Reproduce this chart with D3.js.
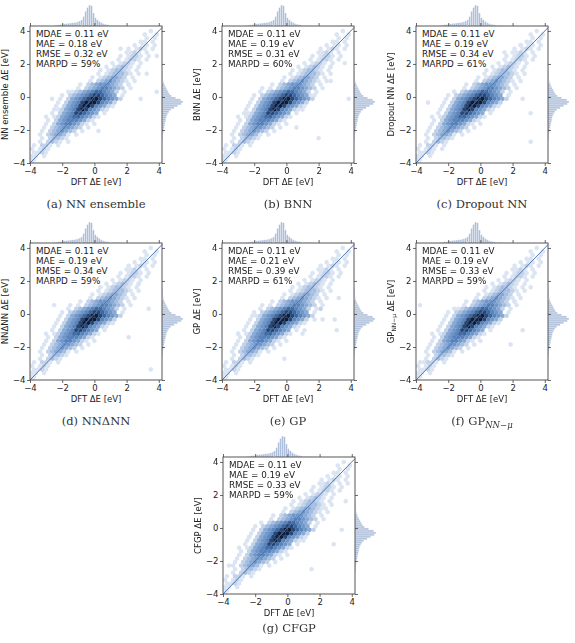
<!DOCTYPE html>
<html>
<head>
<meta charset="utf-8">
<script src="https://cdn.jsdelivr.net/npm/d3@7"></script>
<style>
  body { margin: 0; background: #fff; }
  svg { display: block; }
</style>
</head>
<body>
<div id="chart"></div>
<script>
// datos del grafico
const captionMain = ["(a) NN ensemble", "(b) BNN", "(c) Dropout NN", "(d) NNΔNN", "(e) GP", "(f) GP", "(g) CFGP"]
const captionSub = ["", "", "", "", "", "NN−μ", ""]
const yLabelMain = ["NN ensemble", "BNN", "Dropout NN", "NNΔNN", "GP", "GP", "CFGP"]
const yLabelSub = ["", "", "", "", "", "NN−μ", ""]
const mdae = [0.11, 0.11, 0.11, 0.11, 0.11, 0.11, 0.11]
const mae = [0.18, 0.19, 0.19, 0.19, 0.21, 0.19, 0.19]
const rmse = [0.32, 0.31, 0.34, 0.34, 0.39, 0.33, 0.33]
const marpd = [59, 60, 61, 59, 61, 59, 59]
const ticks = [-4, -2, 0, 2, 4]

// histogramas marginales (altura relativa, bins de 0.12 desde -2.64)
const histStart = -2.64
const histBin = 0.12
const histDFT = [2, 3, 4, 6, 7, 9, 10, 12, 13, 14, 15, 16, 18, 20, 24, 30, 45, 70, 88, 100, 96, 62, 40, 30, 22, 16, 12, 9, 7, 5, 4, 3, 3, 2, 2, 1, 1]
const histPred = [2, 3, 4, 5, 7, 8, 10, 12, 14, 16, 18, 20, 23, 27, 33, 42, 58, 75, 92, 100, 90, 65, 45, 36, 30, 25, 20, 15, 11, 8, 6, 4, 3, 2, 2, 1, 1]

// celdas hexagonales de la banda: "columnaInicial:niveles" por fila, de y=4 a y=-4
const bandRows = [
  "30:1",
  "28:1..1",
  "29:1.1",
  "27:11.1",
  "26:1.11.1",
  "24:1.121.1",
  "24:1121.1",
  "22:1.1221.1",
  "22:1.1221.1",
  "20:1.1221.1",
  "19:1.12321.1",
  "17:1.123321.1",
  "17:1.1233321.1",
  "15:1.1234432.1",
  "15:1.23454321.1",
  "12:1.234555432.1",
  "12:1.2345665432.1",
  "9:1.23456776542.1",
  "8:1.234567887654.1",
  "7:1.24567899876542",
  "7:1.2456899986542",
  "6:1.2456899865421",
  "6:1.245689865421",
  "5:1.2456887654.1",
  "4:1.124567765421",
  "4:1.2456665421",
  "4:1.245665421.1",
  "3:1.23455432.1",
  "3:1.2345432.1",
  "2:1.234431.1",
  "3:1.23321",
  "2:1.2321",
  "1:1.221.1",
  "0:1.121",
  "1:1121",
  "0:11.1",
  "0:11",
  "0:1"
]

// puntos sueltos por panel: [DFT, prediccion, nivel]
const outliersA = [[3.2, 1.4, 1], [2.2, 0.8, 1], [0.75, -0.8, 2], [-2.6, -0.2, 1], [-1.7, -2.75, 1], [2.9, -0.2, 1], [0.3, -2.1, 1], [-2.3, -0.8, 1], [3.8, 2.4, 1], [3.9, 0.4, 1], [1.5, 3.0, 1], [-1.5, 0.4, 1], [1.2, -0.5, 1]]
const outliersB = [[-2.9, 2.7, 1], [-3.9, -3.6, 1], [3.8, -0.2, 1], [2.7, 1.0, 1], [0.55, -1.8, 1], [-2.3, -1.0, 1], [2.1, -2.6, 1], [2.8, 1.9, 1], [3.6, 2.0, 1], [-1.4, 0.5, 1], [1.1, -0.7, 1], [1.6, 0.2, 1]]
const outliersC = [[3.0, -0.9, 1], [2.7, -0.2, 1], [3.0, -2.8, 1], [-3.2, -0.4, 1], [-2.4, -3.2, 1], [1.45, 2.6, 1], [2.5, 3.2, 1], [0.75, -0.8, 2], [1.8, 0.1, 1], [-1.6, 0.3, 1]]
const outliersD = [[3.45, -3.4, 1], [-3.05, -1.7, 1], [2.65, 1.9, 1], [2.05, -1.4, 1], [0.0, -1.1, 1], [3.25, 0.25, 1], [-2.4, 0.45, 1], [1.2, -0.6, 1], [-1.4, 0.6, 1]]
const outliersE = [[3.0, -0.3, 1], [1.8, -0.4, 1], [2.2, -0.4, 1], [3.3, 0.9, 1], [-2.9, -1.3, 1], [3.2, -0.9, 1], [2.0, 0.4, 2], [-0.05, -2.7, 1], [-1.5, 0.6, 1], [1.2, -0.9, 1], [-3.7, -3.9, 1], [-1.8, -0.2, 1], [0.9, -1.3, 1]]
const outliersF = [[-3.8, 0.5, 1], [1.8, -1.8, 1], [2.5, -0.9, 1], [2.8, 2.2, 1], [3.0, 1.7, 1], [2.2, 0.7, 1], [-3.4, -2.9, 1], [-0.05, -1.2, 1], [-1.5, 0.4, 1]]
const outliersG = [[3.65, 1.6, 1], [3.4, -0.2, 1], [2.9, -1.0, 1], [-3.6, -2.2, 1], [2.0, 1.1, 1], [-2.3, -0.6, 1], [1.4, -2.6, 1], [3.65, 2.8, 1], [1.1, -0.8, 1]]
const outliers = [outliersA, outliersB, outliersC, outliersD, outliersE, outliersF, outliersG]

// constantes de tamano
const width = 575
const height = 643
const boxW = 132
const boxH = 137
const panels = [
  {left: 30, top: 26, capY: 208},
  {left: 222, top: 26, capY: 208},
  {left: 416, top: 26, capY: 208},
  {left: 30, top: 243, capY: 425},
  {left: 222, top: 243, capY: 425},
  {left: 416, top: 243, capY: 425},
  {left: 223, top: 457, capY: 632}
]
const sans = "DejaVu Sans, sans-serif"
const serif = "DejaVu Serif, serif"
const fs = 8.5

const svg = d3.select("#chart").append("svg").attr("width", width).attr("height", height)

// suavizado leve de los hexagonos
svg.append("defs").append("filter").attr("id", "soft")
  .attr("x", "-5%").attr("y", "-5%").attr("width", "110%").attr("height", "110%")
  .append("feGaussianBlur").attr("stdDeviation", 0.55)

// escalas
const x = d3.scaleLinear().domain([-4, 4.2]).range([0, boxW])
const y = d3.scaleLinear().domain([-4, 4.3]).range([boxH, 0])
const histScale = d3.scaleLinear().domain([0, 100]).range([0, 21])
const color = d3.scaleLinear().domain([1, 2, 3, 4, 5, 6, 7, 8, 9])
  .range(["#dae4f2", "#c1d2e9", "#a4bde0", "#88a9d4", "#6e96c8", "#5883bb", "#3d679f", "#254674", "#0e1f3a"])

// rejilla hexagonal
const hexW = 0.25
const hexH = hexW * Math.sqrt(3) / 2
const hexCx = d => -4 + d.col * hexW + (d.row % 2) * hexW / 2
const hexCy = d => 4 - d.row * hexH
const rad = (x(hexW) - x(0)) / Math.sqrt(3) * 1.06
const hexPath = "M" + d3.range(6).map(k => {
  const a = Math.PI / 3 * k - Math.PI / 2
  return [rad * Math.cos(a), rad * Math.sin(a)]
}).join("L") + "Z"

const bandCells = []
bandRows.forEach((s, r) => {
  const [start, pat] = s.split(":")
  pat.split("").forEach((ch, k) => {
    if (ch !== ".") bandCells.push({row: r, col: +start + k, level: +ch})
  })
})

panels.forEach((p, i) => {
  const g = svg.append("g").attr("transform", `translate(${p.left}, ${p.top})`)

  // histogramas marginales
  g.append("g").selectAll("rect").data(histDFT)
    .join("rect")
      .attr("x", (d, k) => x(histStart + k * histBin))
      .attr("width", x(histBin) - x(0))
      .attr("y", d => -histScale(d))
      .attr("height", d => histScale(d))
      .attr("fill", "#4c72b0").attr("fill-opacity", 0.45)
      .attr("stroke", "#fff").attr("stroke-width", 0.35)
  g.append("g").selectAll("rect").data(histPred)
    .join("rect")
      .attr("x", boxW)
      .attr("y", (d, k) => y(histStart + (k + 1) * histBin))
      .attr("height", y(0) - y(histBin))
      .attr("width", d => histScale(d))
      .attr("fill", "#4c72b0").attr("fill-opacity", 0.45)
      .attr("stroke", "#fff").attr("stroke-width", 0.35)

  // hexbin
  g.append("clipPath").attr("id", "clip" + i)
    .append("rect").attr("width", boxW).attr("height", boxH)
  const extra = outliers[i].map(o => {
    const row = Math.round((4 - o[1]) / hexH)
    const col = Math.round((o[0] + 4 - (row % 2) * hexW / 2) / hexW)
    return {row: row, col: col, level: o[2]}
  })
  g.append("g").attr("clip-path", `url(#clip${i})`)
    .append("g").attr("filter", "url(#soft)")
    .selectAll("path").data(extra.concat(bandCells))
    .join("path")
      .attr("d", hexPath)
      .attr("transform", d => `translate(${x(hexCx(d))}, ${y(hexCy(d))})`)
      .attr("fill", d => color(d.level))

  // diagonal
  g.append("line")
    .attr("x1", x(-4)).attr("y1", y(-4))
    .attr("x2", x(4.2)).attr("y2", y(4.2))
    .attr("stroke", "#5078b8").attr("stroke-width", 1)

  // ejes
  const xAxisGroup = g.append("g").attr("transform", `translate(0, ${boxH})`)
    .call(d3.axisBottom(x).tickValues(ticks).tickSize(3).tickPadding(1.5))
  const yAxisGroup = g.append("g")
    .call(d3.axisLeft(y).tickValues(ticks).tickSize(3).tickPadding(1.5))
  const topGroup = g.append("g")
    .call(d3.axisTop(x).tickValues(ticks).tickSize(3).tickFormat(""))
  const rightGroup = g.append("g").attr("transform", `translate(${boxW}, 0)`)
    .call(d3.axisRight(y).tickValues(ticks).tickSize(3).tickFormat(""))
  ;[xAxisGroup, yAxisGroup, topGroup, rightGroup].forEach(a => {
    a.select(".domain").remove()
    a.selectAll("line").attr("stroke", "#444").attr("stroke-width", 0.8)
    a.selectAll("text").attr("font-family", sans).attr("font-size", fs).attr("fill", "#222")
  })

  g.append("rect").attr("width", boxW).attr("height", boxH)
    .attr("fill", "none").attr("stroke", "#444").attr("stroke-width", 0.9)

  // metricas
  const stats = [
    `MDAE = ${mdae[i].toFixed(2)} eV`,
    `MAE = ${mae[i].toFixed(2)} eV`,
    `RMSE = ${rmse[i].toFixed(2)} eV`,
    `MARPD = ${marpd[i]}%`
  ]
  g.append("g").selectAll("text").data(stats)
    .join("text")
      .attr("x", 6).attr("y", (d, k) => 10.5 + k * 10)
      .attr("font-family", sans).attr("font-size", 8.8).attr("fill", "#222")
      .text(d => d)

  // etiquetas de los ejes
  g.append("text")
    .attr("x", boxW / 2).attr("y", boxH + 22)
    .attr("text-anchor", "middle")
    .attr("font-family", sans).attr("font-size", fs).attr("fill", "#222")
    .text("DFT ΔE [eV]")
  const yl = g.append("text")
    .attr("transform", `translate(-22, ${boxH / 2}) rotate(-90)`)
    .attr("text-anchor", "middle")
    .attr("font-family", sans).attr("font-size", fs).attr("fill", "#222")
  yl.append("tspan").text(yLabelMain[i])
  if (yLabelSub[i]) {
    yl.append("tspan").attr("font-size", fs * 0.7).attr("dy", 2).text(yLabelSub[i])
    yl.append("tspan").attr("dy", -2).text(" ΔE [eV]")
  } else {
    yl.append("tspan").text(" ΔE [eV]")
  }

  // pie de figura
  const cap = svg.append("text")
    .attr("x", p.left + boxW / 2).attr("y", p.capY)
    .attr("text-anchor", "middle")
    .attr("font-family", serif).attr("font-size", 11.5).attr("fill", "#333")
  cap.append("tspan").text(captionMain[i])
  if (captionSub[i]) {
    cap.append("tspan").attr("font-size", 8.5).attr("font-style", "italic").attr("dy", 2.5).text(captionSub[i])
  }
})
</script>
</body>
</html>
